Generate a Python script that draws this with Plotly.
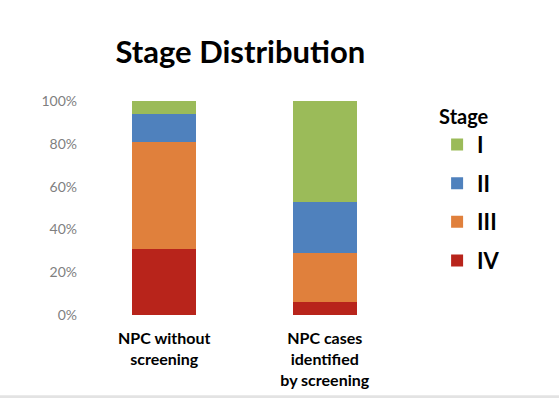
import plotly.graph_objects as go

categories = ["NPC without<br>screening", "NPC cases<br>identified<br>by screening"]
stages = ["IV", "III", "II", "I"]
stage_iv = [31, 6]
stage_iii = [50, 23]
stage_ii = [13, 24]
stage_i = [6, 47]
colors = {"I": "#9BBB59", "II": "#4F81BD", "III": "#E0803C", "IV": "#B8241B"}
legend_rank = {"I": 1, "II": 2, "III": 3, "IV": 4}
tick_vals = [0, 20, 40, 60, 80, 100]
tick_text = ["0%", "20%", "40%", "60%", "80%", "100%"]

series = {"IV": stage_iv, "III": stage_iii, "II": stage_ii, "I": stage_i}

fig = go.Figure()
for s in stages:
    fig.add_trace(go.Bar(
        x=categories, y=series[s], name=s, legendgroup=s,
        legendrank=legend_rank[s],
        marker=dict(color=colors[s], line=dict(width=0)),
        hoverinfo="skip",
    ))

fig.update_layout(
    width=559, height=398,
    barmode="stack", bargap=0.6,
    paper_bgcolor="white", plot_bgcolor="white",
    margin=dict(l=84, r=154, t=101, b=83),
    title=dict(text="<b>Stage Distribution</b>", x=0.43, xanchor="center",
               y=0.87, yanchor="middle",
               font=dict(family="Lato", size=31, color="black")),
    font=dict(family="Lato"),
    legend=dict(
        title=dict(text="<b>Stage</b>", font=dict(size=20, color="black")),
        font=dict(size=22, color="black", family="Lato", weight="bold"),
        traceorder="grouped", tracegroupgap=7,
        x=1.1, xanchor="left", y=1.015, yanchor="top",
        itemclick=False,
    ),
    xaxis=dict(showline=False, ticks="", showgrid=False, automargin=False,
               tickfont=dict(family="Lato", size=16, color="black", weight="bold"),
               ticklabelstandoff=12),
    yaxis=dict(range=[0, 100], tickvals=tick_vals, ticktext=tick_text,
               showgrid=False, showline=False, zeroline=False, ticks="",
               automargin=False,
               tickfont=dict(family="Lato", size=14, color="#7F7F7F"),
               ticklabelstandoff=6),
)
fig.add_shape(type="rect", xref="paper", yref="paper", x0=-0.5, x1=1.8,
              y0=-0.375, y1=-0.45, fillcolor="#E3E3E3", line=dict(width=0), layer="below")

fig.write_html("out.html")
